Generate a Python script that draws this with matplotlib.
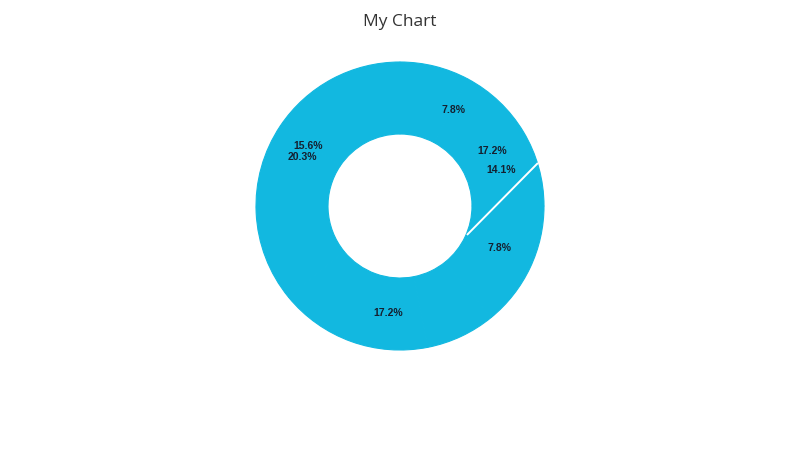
import matplotlib.pyplot as plt

# dados do grafico
categorias = ['A', 'B', 'C', 'D', 'E', 'F', 'G']
valores = [7.8, 17.2, 14.1, 7.8, 17.2, 20.3, 15.6]
cor = '#12B8E0'

# posicao dos rotulos (como aparecem no original), em unidades do raio
pos_rotulos = [(0.37, 0.67), (0.64, 0.38), (0.70, 0.25), (0.69, -0.29),
               (-0.08, -0.74), (-0.68, 0.34), (-0.64, 0.42)]

fig = plt.figure(figsize=(8, 4.5), dpi=100)
ax = fig.add_axes([0.23, 0.0622, 0.54, 0.96])

# borda da mesma cor para esconder as emendas entre as fatias
wedges, textos, autotextos = ax.pie(
    valores, labels=None, colors=[cor] * len(valores), startangle=90,
    counterclock=False, autopct='%1.1f%%', pctdistance=0.75,
    wedgeprops=dict(width=0.5, linewidth=0.8, edgecolor=cor),
    textprops=dict(fontsize=7.5, fontweight='bold', color='#152030',
                   family='Liberation Sans'))

for t, (x, y) in zip(autotextos, pos_rotulos):
    t.set_position((x, y))

# linha branca que aparece no original
ax.plot([0.465, 0.958], [-0.201, 0.299], color='white', lw=1.4,
        solid_capstyle='butt')

ax.set_xlim(-1.5, 1.5)
ax.set_ylim(-1.5, 1.5)
ax.set_aspect('equal')
ax.axis('off')

fig.text(0.5, 0.951, 'My Chart', ha='center', va='center', fontsize=12.5,
         color='#333333', family='Open Sans')

fig.savefig('out.png', dpi=100)
